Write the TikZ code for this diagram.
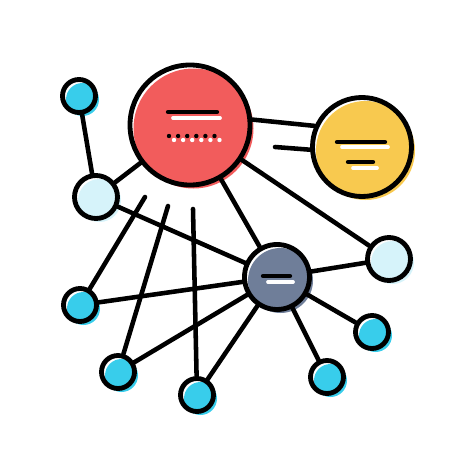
\documentclass[tikz,border=0pt]{standalone}
\usepackage{tikz}
\usetikzlibrary{shadows}
\definecolor{hubred}{HTML}{F25C5C}
\definecolor{hubyellow}{HTML}{F8C94F}
\definecolor{hubgray}{HTML}{6F7E99}
\definecolor{leafpale}{HTML}{D6F3FA}
\definecolor{leafcyan}{HTML}{38CDEB}
\tikzset{
	bubble/.style={circle, draw=black, line width=1.7mm, inner sep=0pt,
		preaction={fill=white},
		general shadow={fill=#1, shadow xshift=3.5pt, shadow yshift=-3.5pt}},
	link/.style={line width=1.6mm, line cap=round},
	bar/.style={line width=1.5mm, line cap=round},
	barlight/.style={line width=1.3mm, line cap=round, color=white}
}

\begin{document}
\begin{tikzpicture}[x=1pt, y=-1pt]
		%%%%% START %%%%%
		\fill[white] (0, 0) rectangle (474, 474);
		\useasboundingbox (0, 0) rectangle (474, 474);
		
		% hubs
		\node[bubble=hubred, minimum size=120pt] (red) at (190, 125) {};
		\node[bubble=hubyellow, minimum size=99pt] (yellow) at (362, 147) {};
		\node[bubble=hubgray, minimum size=65pt] (gray) at (277, 277) {};
		
		% leaves
		\node[bubble=leafpale, minimum size=43pt] (paleL) at (96, 197) {};
		\node[bubble=leafpale, minimum size=43pt] (paleR) at (389, 259) {};
		\node[bubble=leafcyan, minimum size=33pt] (cyanA) at (79, 96) {};
		\node[bubble=leafcyan, minimum size=33pt] (cyanB) at (80, 305) {};
		\node[bubble=leafcyan, minimum size=33pt] (cyanC) at (118, 372) {};
		\node[bubble=leafcyan, minimum size=33pt] (cyanD) at (197, 395) {};
		\node[bubble=leafcyan, minimum size=33pt] (cyanE) at (327, 377) {};
		\node[bubble=leafcyan, minimum size=33pt] (cyanF) at (372, 332) {};
		
		% free ends
		\coordinate (split) at (275, 147);
		\coordinate (dropA) at (145, 197);
		\coordinate (dropB) at (168, 206);
		\coordinate (dropC) at (193, 209);
		
		\draw[link] (cyanA) -- (paleL);
		\draw[link] (paleL) -- (red);
		\draw[link] (paleL) -- (gray);
		\draw[link] (red.5) -- (yellow.156);
		\draw[link] (split) -- (yellow.183);
		\draw[link] (red) -- (gray);
		\draw[link] (red) -- (paleR);
		
		\draw[link] (dropA) -- (cyanB);
		\draw[link] (dropB) -- (cyanC);
		\draw[link] (dropC) -- (cyanD);
		
		\draw[link] (gray) -- (cyanB);
		\draw[link] (gray) -- (cyanC);
		\draw[link] (gray) -- (cyanD);
		\draw[link] (gray) -- (paleR);
		\draw[link] (gray) -- (cyanF);
		\draw[link] (gray) -- (cyanE);
		
		% marks on red
		\draw[barlight] (173, 118) -- (220, 118);
		\draw[bar] (168, 112) -- (217, 112);
		\foreach \i in {0,...,5} {
			\fill[white] (174+9.1*\i, 140) circle (2.2);
			\fill[black] (169+9.1*\i, 136) circle (2.2);
		}
		
		% marks on yellow
		\draw[barlight] (342, 147) -- (388, 147);
		\draw[bar] (337, 142) -- (385, 142);
		\draw[barlight] (353, 168) -- (377, 168);
		\draw[bar] (348, 162) -- (373, 162);
		
		% mark on gray
		\draw[barlight] (268, 282) -- (293, 282);
		\draw[bar] (263, 276) -- (290, 276);
		
		%%%%% END %%%%%
	\end{tikzpicture}
\end{document}
